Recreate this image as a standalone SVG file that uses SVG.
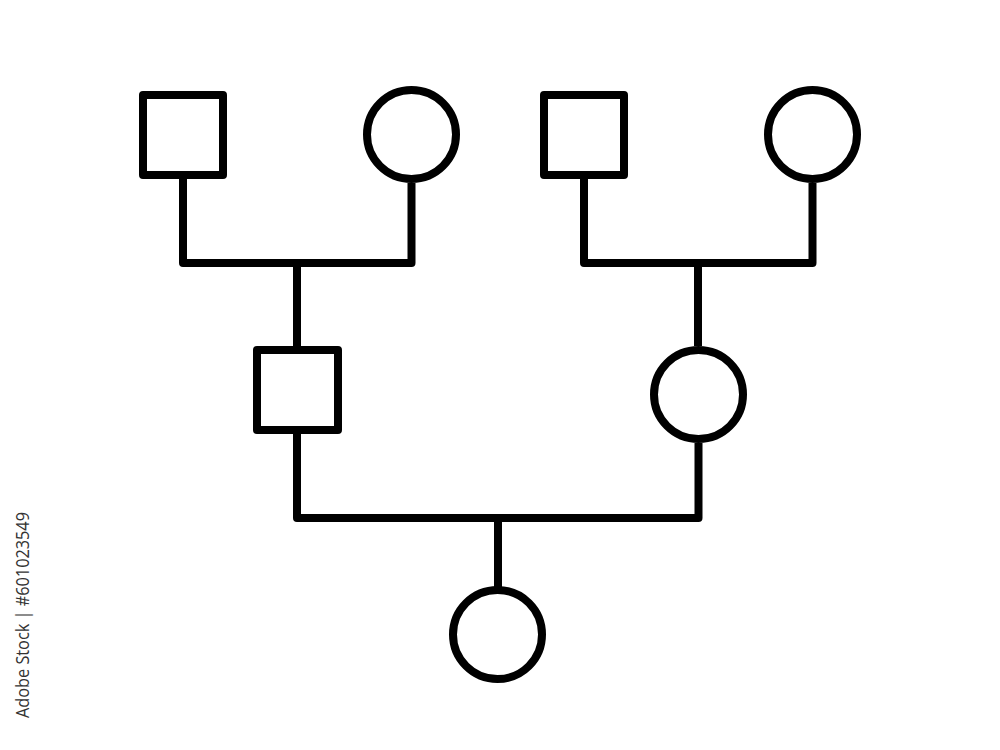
<svg xmlns="http://www.w3.org/2000/svg" width="1000" height="750" viewBox="0 0 1000 750">
  <style>
    .shape { fill: #ffffff; stroke: #000000; stroke-width: 8; stroke-linejoin: round; }
    .link { fill: none; stroke: #000000; stroke-width: 8; stroke-linejoin: round; stroke-linecap: butt; }
    .wm { font-family: "Open Sans", "Noto Sans", sans-serif; font-size: 17.5px; fill: #333333; }
  </style>
  <rect width="1000" height="750" fill="#ffffff"/>
  <g id="connectors">
    <path class="link" d="M183,179 V263 H411.5 V183"/>
    <path class="link" d="M297,263 V346"/>
    <path class="link" d="M584,179 V263 H812.5 V183"/>
    <path class="link" d="M698,263 V346"/>
    <path class="link" d="M297,434 V518 H698.5 V443"/>
    <path class="link" d="M498,518 V587"/>
  </g>
  <g id="grandfather-left"><rect class="shape" x="143" y="95" width="80" height="80"/></g>
  <g id="grandmother-left"><circle class="shape" cx="411.5" cy="134.5" r="44.5"/></g>
  <g id="grandfather-right"><rect class="shape" x="544" y="95" width="80" height="80"/></g>
  <g id="grandmother-right"><circle class="shape" cx="812.5" cy="134.5" r="44.5"/></g>
  <g id="father"><rect class="shape" x="257" y="350" width="81" height="80"/></g>
  <g id="mother"><circle class="shape" cx="698.5" cy="394.5" r="44.5"/></g>
  <g id="child"><circle class="shape" cx="497.5" cy="634.5" r="44.5"/></g>
  <text class="wm" transform="translate(28.5,718) rotate(-90)" textLength="206" lengthAdjust="spacingAndGlyphs">Adobe Stock | #601023549</text>
</svg>
